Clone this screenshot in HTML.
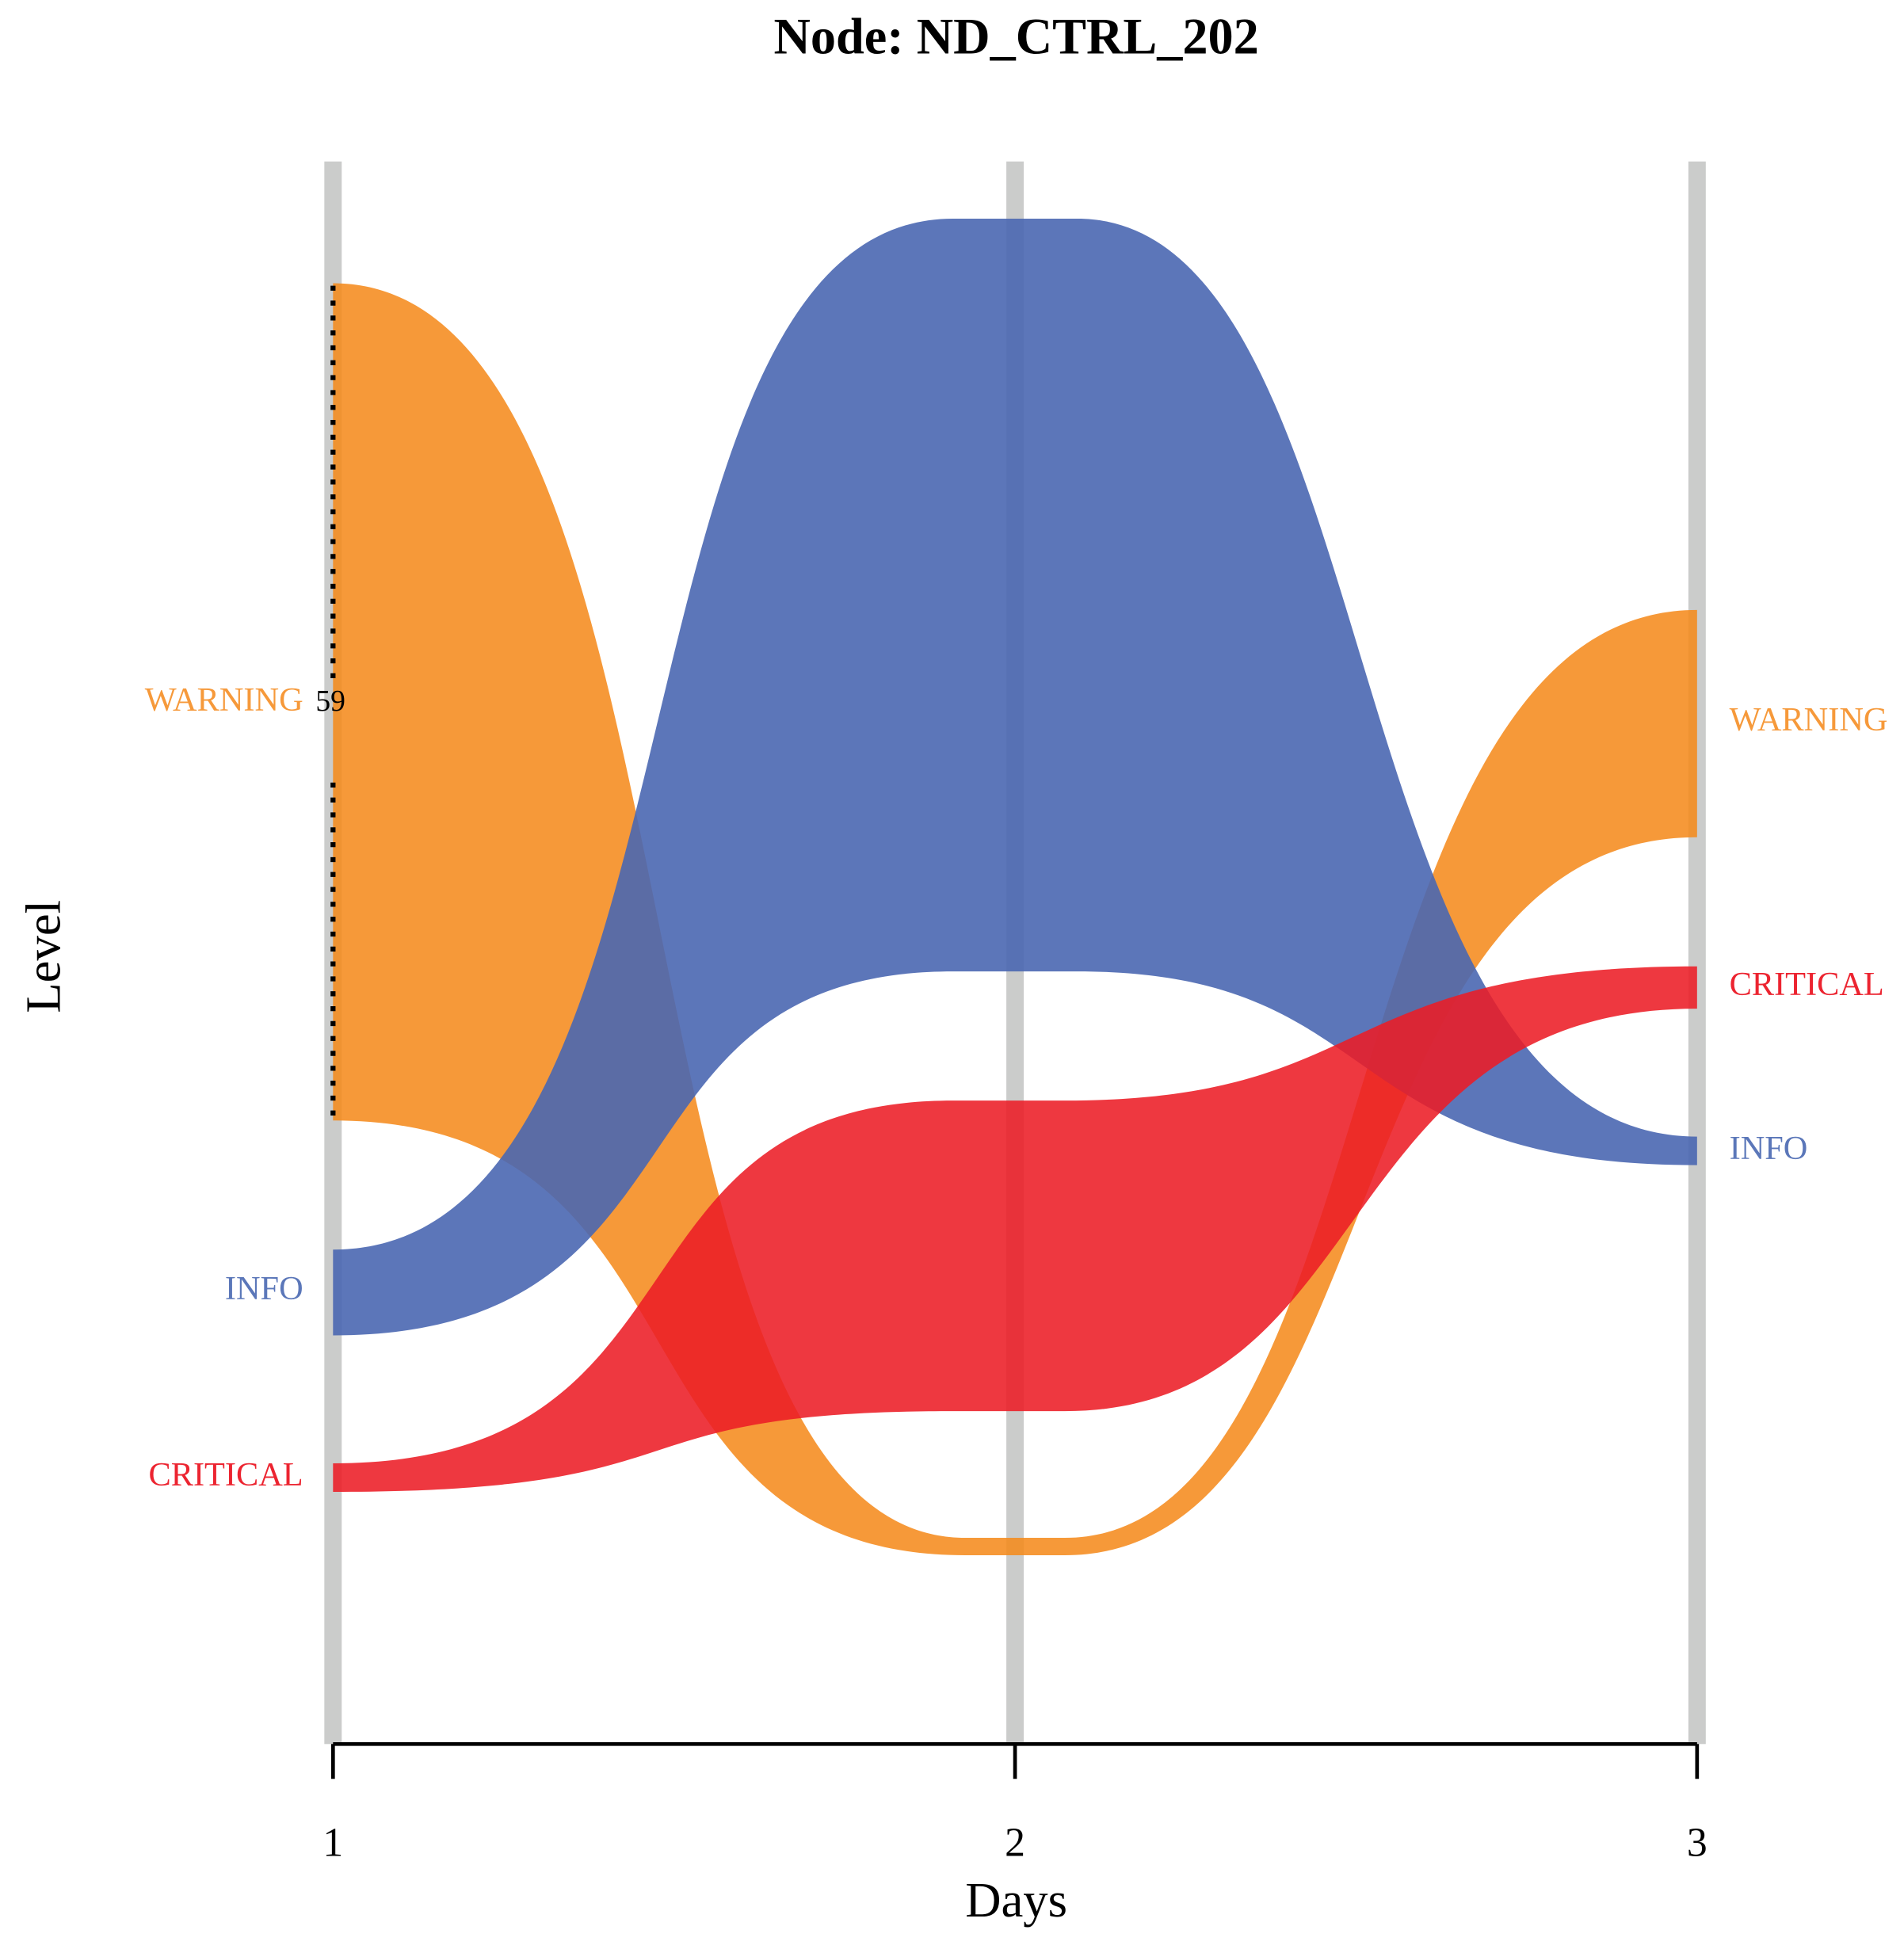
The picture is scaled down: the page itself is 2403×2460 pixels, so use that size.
<!DOCTYPE html>
<html><head><meta charset="utf-8"><style>html,body{margin:0;padding:0;background:#fff}svg{display:block}</style></head>
<body>
<svg width="2403" height="2460" viewBox="0 0 1532.5 1569" xmlns="http://www.w3.org/2000/svg" font-family="'Liberation Serif', serif">
<rect width="1532.5" height="1569" fill="#fff"/>
<text x="818" y="43" font-size="41" font-weight="bold" text-anchor="middle">Node: ND_CTRL_202</text>
<g fill="#cbcccb">
<rect x="261" y="130" width="14" height="1274"/>
<rect x="810" y="130" width="14" height="1274"/>
<rect x="1359" y="130" width="14" height="1274"/>
</g>
<path d="M268,228 C580,228 480,1238 777,1238 L857,1238 C1120,1238 1070,491 1366,491 L1366,674 C1070,674 1120,1252 857,1252 L777,1252 C480,1252 580,902 268,902 Z" fill="#f58a1c" fill-opacity="0.87"/>
<path d="M268,1006 C580,1006 480,176 767,176 L867,176 C1120,176 1070,915 1366,915 L1366,938 C1070,938 1120,782 867,782 L767,782 C480,782 580,1075 268,1075 Z" fill="#4a67b1" fill-opacity="0.9"/>
<path d="M268,1178 C580,1178 480,886 767,886 L857,886 C1110,886 1070,778 1366,778 L1366,812 C1070,812 1110,1136 857,1136 L767,1136 C480,1136 580,1201 268,1201 Z" fill="#ec1c26" fill-opacity="0.88"/>
<line x1="268" y1="230" x2="268" y2="548" stroke="#000" stroke-width="4" stroke-dasharray="4,8"/>
<line x1="268" y1="630" x2="268" y2="902" stroke="#000" stroke-width="4" stroke-dasharray="4,8"/>
<text x="254" y="572" font-size="24">59</text>
<g font-size="27">
<text x="244" y="572" text-anchor="end" fill="#f6993a">WARNING</text>
<text x="244" y="1046" text-anchor="end" fill="#5b77b9">INFO</text>
<text x="244" y="1196" text-anchor="end" fill="#ec2430">CRITICAL</text>
<text x="1392" y="588" fill="#f6993a">WARNING</text>
<text x="1392" y="801" fill="#ec2430">CRITICAL</text>
<text x="1392" y="933" fill="#5b77b9">INFO</text>
</g>
<g stroke="#000" stroke-width="3" fill="none">
<line x1="268" y1="1404" x2="1366" y2="1404"/>
<line x1="268" y1="1404" x2="268" y2="1432"/>
<line x1="817" y1="1404" x2="817" y2="1432"/>
<line x1="1366" y1="1404" x2="1366" y2="1432"/>
</g>
<g font-size="33" text-anchor="middle">
<text x="268" y="1494">1</text>
<text x="817" y="1494">2</text>
<text x="1366" y="1494">3</text>
<text x="818" y="1543" font-size="40">Days</text>
<text transform="translate(48,770) rotate(-90)" font-size="40">Level</text>
</g>
</svg>
</body></html>
